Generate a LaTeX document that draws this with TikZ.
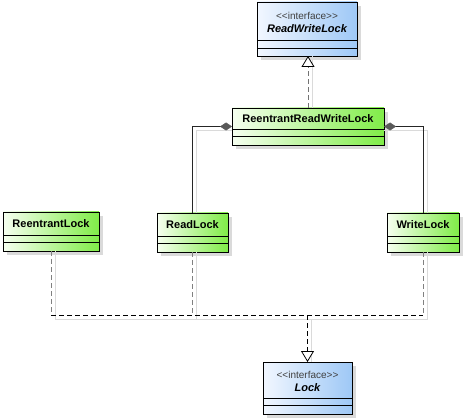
\documentclass[tikz,border=0pt]{standalone}
\usepackage{fontspec}
\setmainfont{Liberation Sans}
\usetikzlibrary{shadows,arrows.meta}
\definecolor{clsgreen}{RGB}{128,236,72}
\definecolor{clsleft}{RGB}{246,255,240}
\definecolor{ifblue}{RGB}{158,200,246}
\definecolor{ifleft}{RGB}{242,247,255}
\definecolor{shadowgray}{RGB}{218,218,218}
\begin{document}
\begin{tikzpicture}[x=1pt,y=-1pt,
  box/.style={draw=black, line width=0.9pt, inner sep=0pt, outer sep=0pt, anchor=north west,
    drop shadow={shadow xshift=4pt, shadow yshift=-4pt, fill=shadowgray, opacity=1}},
  cls/.style={box, left color=clsleft, right color=clsgreen},
  iface/.style={box, left color=ifleft, right color=ifblue},
  cname/.style={font=\fontsize{11}{13}\selectfont\bfseries, inner sep=0pt},
  iname/.style={font=\fontsize{11}{13}\selectfont\bfseries\itshape, inner sep=0pt},
  stereo/.style={font=\fontsize{10}{12}\selectfont, text=black!75, inner sep=0pt},
  comp/.style={line width=0.8pt},
  conn/.style={line width=0.6pt},
  dsh/.style={dash pattern=on 5pt off 3pt},
  cshadow/.style={draw=shadowgray, line width=0.9pt},
  realize/.style={-{Triangle[length=11pt, width=13pt, color=black, fill=white, line width=0.8pt]}},
  compose/.style={{Diamond[length=12pt, width=8pt, color=black!65, fill=black!65]}-}
  ]
\useasboundingbox (0,0) rectangle (465,419);

% boxes
\node[iface, minimum width=100pt, minimum height=54pt] (rwl) at (257,2) {};
\node[cls, minimum width=152pt, minimum height=37pt] (rrwl) at (232,108) {};
\node[cls, minimum width=96pt, minimum height=39pt] (rl) at (3,212) {};
\node[cls, minimum width=71pt, minimum height=39pt] (readl) at (157,213) {};
\node[cls, minimum width=72pt, minimum height=39pt] (wl) at (387,213) {};
\node[iface, minimum width=89pt, minimum height=52pt] (lock) at (263,362) {};

% compartments
\draw[comp] (rwl.west |- 0,40) -- (rwl.east |- 0,40);
\draw[comp] (rwl.west |- 0,48) -- (rwl.east |- 0,48);
\draw[comp] (rrwl.west |- 0,129) -- (rrwl.east |- 0,129);
\draw[comp] (rrwl.west |- 0,136) -- (rrwl.east |- 0,136);
\draw[comp] (rl.west |- 0,235) -- (rl.east |- 0,235);
\draw[comp] (rl.west |- 0,242) -- (rl.east |- 0,242);
\draw[comp] (readl.west |- 0,236) -- (readl.east |- 0,236);
\draw[comp] (readl.west |- 0,243) -- (readl.east |- 0,243);
\draw[comp] (wl.west |- 0,236) -- (wl.east |- 0,236);
\draw[comp] (wl.west |- 0,243) -- (wl.east |- 0,243);
\draw[comp] (lock.west |- 0,398) -- (lock.east |- 0,398);
\draw[comp] (lock.west |- 0,405) -- (lock.east |- 0,405);

% texts
\node[stereo] (rwlst) at (307,16) {{<}{<}interface{>}{>}};
\node[iname] (rwlname) at (307,29) {ReadWriteLock};
\node[cname] (rrwlname) at (308,119) {ReentrantReadWriteLock};
\node[cname] (rlname) at (51,224) {ReentrantLock};
\node[cname] (readlname) at (192.5,225) {ReadLock};
\node[cname] (wlname) at (423,225) {WriteLock};
\node[stereo] (lockst) at (307.5,375) {{<}{<}interface{>}{>}};
\node[iname] (lockname) at (307.5,388) {Lock};

% junction
\coordinate (j) at (lock.north |- 0,315);

% connector shadows
\draw[cshadow] ([xshift=4pt]rrwl.north) -- ([xshift=4pt]rrwl.north |- rwl.south);
\draw[cshadow] ([yshift=-4pt]rrwl.west) -| ([xshift=4pt]readl.north);
\draw[cshadow] ([yshift=-4pt]rrwl.east) -| ([xshift=4pt]wl.north);
\draw[cshadow] ([xshift=4pt]rl.south) |- ([shift={(4pt,-4pt)}]j);
\draw[cshadow] ([xshift=4pt]readl.south) |- ([shift={(4pt,-4pt)}]j);
\draw[cshadow] ([xshift=4pt]wl.south) |- ([shift={(4pt,-4pt)}]j);
\draw[cshadow] ([shift={(4pt,-4pt)}]j) -- ([xshift=4pt]lock.north);

% realization ReentrantReadWriteLock -> ReadWriteLock
\draw[conn, dsh, black!55, realize] (rrwl.north) -- (rrwl.north |- rwl.south);

% compositions
\draw[conn, black!85, compose] (rrwl.west) -| (readl.north);
\draw[conn, black!85, compose] (rrwl.east) -| (wl.north);

% realizations to Lock
\draw[conn, dsh, black!50] (rl.south) -- (rl.south |- j);
\draw[conn, dsh, black!50] (readl.south) -- (readl.south |- j);
\draw[conn, dsh, black!50] (wl.south) -- (wl.south |- j);
\draw[conn, dsh] (rl.south |- j) -- (wl.south |- j);
\draw[line width=1pt, dsh, realize] (j) -- (lock.north);
\end{tikzpicture}
\end{document}
